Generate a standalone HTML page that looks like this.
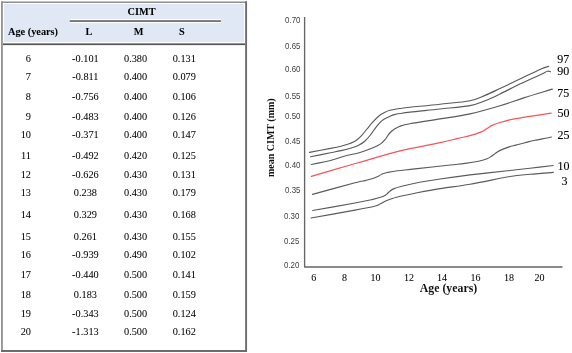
<!DOCTYPE html>
<html><head><meta charset="utf-8"><title>CIMT LMS table and percentile chart</title>
<style>
html,body{margin:0;padding:0;background:#fff;}
body{width:572px;height:353px;overflow:hidden;position:relative;}
svg{position:absolute;left:0;top:0;display:block;}
.serif{font-family:"Liberation Serif","Times New Roman",serif;}
.sans{font-family:"Liberation Sans",Arial,sans-serif;}
</style></head><body>
<svg width="572" height="353" viewBox="0 0 572 353">

<g id="table">
<rect x="4" y="4" width="240" height="38.5" fill="#dfe8f4"/>
<path d="M3.5 3.5H244.5M3.5 3.5V42.5M244.5 3.5V42.5M3.5 42.5H244.5" stroke="#fff" stroke-width="1" fill="none"/>
<rect x="3" y="43" width="242" height="1" fill="#8a98a4"/>
<rect x="3" y="44" width="242" height="1.1" fill="#555"/>
<rect x="69.7" y="19" width="151.2" height="4" fill="#fff"/>
<rect x="69.7" y="20.2" width="151.2" height="1.7" fill="#666"/>
<path d="M1 2.2H247" stroke="#8e8e8e" stroke-width="1.55"/>
<path d="M1.95 1.2V351.9" stroke="#969696" stroke-width="1.9"/>
<path d="M246.1 1.2V351.9" stroke="#6c6c6c" stroke-width="1.9"/>
<path d="M1 350.9H247" stroke="#6c6c6c" stroke-width="2"/>
<g class="serif" font-size="10.3" fill="#000" stroke="#000" stroke-width="0.04">
<text x="141.6" y="14.6" font-weight="bold" text-anchor="middle">CIMT</text>
<text x="8" y="34.9" font-weight="bold">Age (years)</text>
<text x="89" y="34.9" font-weight="bold" text-anchor="middle">L</text>
<text x="138.7" y="34.9" font-weight="bold" text-anchor="middle">M</text>
<text x="181.8" y="34.9" font-weight="bold" text-anchor="middle">S</text>
<text x="31" y="61.9" text-anchor="end">6</text>
<text x="85.4" y="61.9" text-anchor="middle">-0.101</text>
<text x="135.6" y="61.9" text-anchor="middle">0.380</text>
<text x="184.3" y="61.9" text-anchor="middle">0.131</text>
<text x="31" y="79.8" text-anchor="end">7</text>
<text x="85.4" y="79.8" text-anchor="middle">-0.811</text>
<text x="135.6" y="79.8" text-anchor="middle">0.400</text>
<text x="184.3" y="79.8" text-anchor="middle">0.079</text>
<text x="31" y="99.6" text-anchor="end">8</text>
<text x="85.4" y="99.6" text-anchor="middle">-0.756</text>
<text x="135.6" y="99.6" text-anchor="middle">0.400</text>
<text x="184.3" y="99.6" text-anchor="middle">0.106</text>
<text x="31" y="119.5" text-anchor="end">9</text>
<text x="85.4" y="119.5" text-anchor="middle">-0.483</text>
<text x="135.6" y="119.5" text-anchor="middle">0.400</text>
<text x="184.3" y="119.5" text-anchor="middle">0.126</text>
<text x="31" y="137.9" text-anchor="end">10</text>
<text x="85.4" y="137.9" text-anchor="middle">-0.371</text>
<text x="135.6" y="137.9" text-anchor="middle">0.400</text>
<text x="184.3" y="137.9" text-anchor="middle">0.147</text>
<text x="31" y="159.2" text-anchor="end">11</text>
<text x="85.4" y="159.2" text-anchor="middle">-0.492</text>
<text x="135.6" y="159.2" text-anchor="middle">0.420</text>
<text x="184.3" y="159.2" text-anchor="middle">0.125</text>
<text x="31" y="177.9" text-anchor="end">12</text>
<text x="85.4" y="177.9" text-anchor="middle">-0.626</text>
<text x="135.6" y="177.9" text-anchor="middle">0.430</text>
<text x="184.3" y="177.9" text-anchor="middle">0.131</text>
<text x="31" y="196.2" text-anchor="end">13</text>
<text x="85.4" y="196.2" text-anchor="middle">0.238</text>
<text x="135.6" y="196.2" text-anchor="middle">0.430</text>
<text x="184.3" y="196.2" text-anchor="middle">0.179</text>
<text x="31" y="217.7" text-anchor="end">14</text>
<text x="85.4" y="217.7" text-anchor="middle">0.329</text>
<text x="135.6" y="217.7" text-anchor="middle">0.430</text>
<text x="184.3" y="217.7" text-anchor="middle">0.168</text>
<text x="31" y="239.5" text-anchor="end">15</text>
<text x="85.4" y="239.5" text-anchor="middle">0.261</text>
<text x="135.6" y="239.5" text-anchor="middle">0.430</text>
<text x="184.3" y="239.5" text-anchor="middle">0.155</text>
<text x="31" y="258.2" text-anchor="end">16</text>
<text x="85.4" y="258.2" text-anchor="middle">-0.939</text>
<text x="135.6" y="258.2" text-anchor="middle">0.490</text>
<text x="184.3" y="258.2" text-anchor="middle">0.102</text>
<text x="31" y="277.5" text-anchor="end">17</text>
<text x="85.4" y="277.5" text-anchor="middle">-0.440</text>
<text x="135.6" y="277.5" text-anchor="middle">0.500</text>
<text x="184.3" y="277.5" text-anchor="middle">0.141</text>
<text x="31" y="297.9" text-anchor="end">18</text>
<text x="85.4" y="297.9" text-anchor="middle">0.183</text>
<text x="135.6" y="297.9" text-anchor="middle">0.500</text>
<text x="184.3" y="297.9" text-anchor="middle">0.159</text>
<text x="31" y="317.2" text-anchor="end">19</text>
<text x="85.4" y="317.2" text-anchor="middle">-0.343</text>
<text x="135.6" y="317.2" text-anchor="middle">0.500</text>
<text x="184.3" y="317.2" text-anchor="middle">0.124</text>
<text x="31" y="334.8" text-anchor="end">20</text>
<text x="85.4" y="334.8" text-anchor="middle">-1.313</text>
<text x="135.6" y="334.8" text-anchor="middle">0.500</text>
<text x="184.3" y="334.8" text-anchor="middle">0.162</text>
</g></g>
<g id="chart">
<path d="M304.6 17.1V267H562.5" stroke="#646464" stroke-width="1.35" fill="none" stroke-linejoin="round"/>
<g class="sans" font-size="8.4" fill="#404040" text-anchor="end">
<text x="300.5" y="23.0" textLength="15.4" lengthAdjust="spacingAndGlyphs">0.70</text>
<text x="300.5" y="49.0" textLength="15.4" lengthAdjust="spacingAndGlyphs">0.65</text>
<text x="300.5" y="71.8" textLength="15.4" lengthAdjust="spacingAndGlyphs">0.60</text>
<text x="300.5" y="98.7" textLength="15.4" lengthAdjust="spacingAndGlyphs">0.55</text>
<text x="300.5" y="119.4" textLength="15.4" lengthAdjust="spacingAndGlyphs">0.50</text>
<text x="300.5" y="144.1" textLength="15.4" lengthAdjust="spacingAndGlyphs">0.45</text>
<text x="300.5" y="167.8" textLength="15.4" lengthAdjust="spacingAndGlyphs">0.40</text>
<text x="300.5" y="193.0" textLength="15.4" lengthAdjust="spacingAndGlyphs">0.35</text>
<text x="299.4" y="219.1" textLength="15.4" lengthAdjust="spacingAndGlyphs">0.30</text>
<text x="299.4" y="243.5" textLength="15.4" lengthAdjust="spacingAndGlyphs">0.25</text>
<text x="299.4" y="267.8" textLength="15.4" lengthAdjust="spacingAndGlyphs">0.20</text>
</g>
<g class="serif" font-size="10" fill="#000" stroke="#000" stroke-width="0.05" text-anchor="middle">
<text x="313.8" y="280.6">6</text>
<text x="344.5" y="280.6">8</text>
<text x="375.5" y="280.6">10</text>
<text x="409.0" y="280.6">12</text>
<text x="441.9" y="280.6">14</text>
<text x="475.4" y="280.6">16</text>
<text x="509.0" y="280.6">18</text>
<text x="539.6" y="280.6">20</text>
</g>
<text class="serif" x="448.5" y="292.1" font-size="11.8" font-weight="bold" text-anchor="middle" fill="#111">Age (years)</text>
<text class="serif" transform="translate(274.3 137.7) rotate(-90)" font-size="10" font-weight="bold" text-anchor="middle" fill="#111">mean CIMT (mm)</text>
<path d="M309.4 152.4 C312.9 151.7 325.2 149.4 330.5 148.4 C335.8 147.4 337.8 147.0 341.0 146.2 C344.2 145.4 347.6 144.4 350.0 143.5 C352.4 142.6 353.8 142.1 355.7 140.8 C357.6 139.5 359.4 137.8 361.3 135.8 C363.2 133.8 365.1 131.3 367.0 129.0 C368.9 126.7 370.8 124.3 372.7 122.2 C374.6 120.1 376.4 118.1 378.3 116.5 C380.2 114.9 382.1 113.8 384.0 112.8 C385.9 111.8 387.3 111.0 390.0 110.3 C392.7 109.6 396.7 109.0 400.0 108.5 C403.3 108.0 403.3 107.9 410.0 107.2 C416.7 106.5 430.0 105.3 440.0 104.2 C450.0 103.1 462.5 102.2 470.0 100.7 C477.5 99.2 480.0 97.4 485.0 95.4 C490.0 93.4 494.1 91.3 500.0 88.5 C505.9 85.7 513.6 82.1 520.4 78.8 C527.2 75.5 536.3 71.0 541.0 68.9 C545.7 66.8 547.5 66.7 548.8 66.3" stroke="#5a5a5a" stroke-width="1.15" fill="none" stroke-linecap="round" stroke-linejoin="round"/>
<path d="M310.6 156.8 C313.9 156.1 325.4 153.7 330.5 152.7 C335.6 151.7 337.4 151.4 341.0 150.6 C344.6 149.8 349.0 148.7 352.0 147.8 C355.0 146.9 357.0 146.1 359.1 145.0 C361.2 143.9 362.8 143.0 364.7 141.3 C366.6 139.6 368.5 137.4 370.4 135.0 C372.3 132.6 374.2 129.4 376.1 127.1 C378.0 124.8 380.0 122.4 381.7 120.9 C383.4 119.4 384.9 118.8 386.3 118.0 C387.7 117.2 388.6 116.9 390.0 116.3 C391.4 115.7 392.7 115.1 394.4 114.6 C396.1 114.1 397.4 113.9 400.0 113.5 C402.6 113.1 403.3 112.8 410.0 112.1 C416.7 111.3 430.0 110.1 440.0 109.0 C450.0 107.9 462.5 107.0 470.0 105.6 C477.5 104.2 480.0 102.7 485.0 100.8 C490.0 98.9 494.1 96.8 500.0 94.0 C505.9 91.2 513.6 87.0 520.4 83.8 C527.2 80.5 536.3 76.6 540.8 74.5 C545.3 72.4 545.9 71.7 547.5 71.2 C549.1 70.8 550.0 71.7 550.5 71.8" stroke="#5a5a5a" stroke-width="1.15" fill="none" stroke-linecap="round" stroke-linejoin="round"/>
<path d="M311.3 164.5 C314.8 163.8 326.6 161.4 332.2 160.0 C337.8 158.6 340.4 157.2 345.0 156.0 C349.6 154.8 355.3 153.9 360.0 152.5 C364.7 151.1 369.6 149.2 373.0 147.8 C376.4 146.4 378.5 145.4 380.6 143.9 C382.7 142.4 384.2 140.5 385.7 138.8 C387.1 137.1 387.9 135.1 389.3 133.5 C390.7 131.9 392.4 130.4 394.2 129.2 C396.0 128.0 397.4 127.1 400.0 126.2 C402.6 125.3 403.3 124.9 410.0 123.7 C416.7 122.5 430.0 120.5 440.0 118.9 C450.0 117.3 460.0 116.1 470.0 113.9 C480.0 111.7 491.0 108.5 500.0 105.8 C509.0 103.1 515.1 100.7 523.8 97.9 C532.5 95.1 547.6 90.6 552.4 89.1" stroke="#5a5a5a" stroke-width="1.15" fill="none" stroke-linecap="round" stroke-linejoin="round"/>
<path d="M311.3 176.3 C317.8 174.4 341.2 167.6 350.2 165.0 C359.1 162.4 356.7 163.2 365.0 160.8 C373.3 158.5 387.5 153.9 400.0 150.9 C412.5 147.9 430.5 144.8 440.0 142.7 C449.5 140.6 452.0 139.8 457.0 138.6 C462.0 137.4 465.9 136.8 470.0 135.7 C474.1 134.6 478.5 133.1 481.3 131.9 C484.1 130.7 485.1 129.6 487.0 128.5 C488.9 127.4 490.5 126.0 492.6 125.1 C494.7 124.1 496.6 123.7 499.4 122.8 C502.2 121.9 506.0 120.7 509.6 119.9 C513.2 119.1 517.5 118.4 520.9 117.8 C524.3 117.2 525.0 117.2 530.0 116.4 C535.0 115.6 547.7 113.6 551.2 113.1" stroke="#f45558" stroke-width="1.2" fill="none" stroke-linecap="round" stroke-linejoin="round"/>
<path d="M312.5 194.4 C319.6 192.5 346.2 185.1 355.0 182.8 C363.8 180.5 362.2 181.3 365.0 180.6 C367.8 179.9 369.7 179.6 372.0 178.8 C374.3 178.0 377.1 176.7 378.8 175.9 C380.5 175.1 380.8 174.6 382.2 174.0 C383.6 173.4 384.8 173.0 387.3 172.5 C389.9 172.0 392.9 171.4 397.5 170.8 C402.1 170.2 406.2 169.9 415.0 168.9 C423.8 167.9 441.9 165.9 450.2 165.0 C458.5 164.1 460.3 164.0 465.0 163.4 C469.7 162.8 474.9 162.0 478.6 161.2 C482.3 160.4 484.8 159.7 487.1 158.8 C489.4 157.9 490.5 156.8 492.2 155.7 C493.9 154.6 495.6 153.1 497.3 152.0 C499.0 150.9 500.4 150.2 502.4 149.4 C504.4 148.6 506.9 147.6 509.2 146.9 C511.5 146.2 513.4 145.8 516.0 145.1 C518.6 144.4 521.8 143.5 525.0 142.7 C528.2 141.9 530.6 141.2 535.0 140.3 C539.4 139.4 548.8 137.6 551.5 137.0" stroke="#5a5a5a" stroke-width="1.15" fill="none" stroke-linecap="round" stroke-linejoin="round"/>
<path d="M312.6 210.5 C319.7 209.2 345.1 204.8 355.0 203.0 C364.9 201.2 367.5 200.6 372.0 199.6 C376.5 198.6 379.8 197.7 382.2 196.8 C384.6 195.9 385.1 195.3 386.4 194.4 C387.7 193.5 388.5 192.2 389.8 191.2 C391.1 190.2 392.2 189.4 394.1 188.6 C396.0 187.8 397.4 187.4 400.9 186.5 C404.4 185.6 408.5 184.4 415.0 183.2 C421.5 181.9 430.8 180.4 440.0 179.0 C449.2 177.6 458.3 176.3 470.0 174.9 C481.7 173.5 500.0 171.6 510.0 170.5 C520.0 169.4 522.8 169.0 530.0 168.2 C537.2 167.4 549.4 165.9 553.3 165.5" stroke="#5a5a5a" stroke-width="1.15" fill="none" stroke-linecap="round" stroke-linejoin="round"/>
<path d="M311.0 218.0 C318.3 216.7 344.4 212.1 355.0 210.1 C365.6 208.1 370.3 207.2 374.5 206.2 C378.7 205.2 378.1 205.0 380.0 204.1 C381.9 203.2 383.5 201.9 385.6 201.0 C387.7 200.1 389.6 199.4 392.4 198.5 C395.2 197.6 398.8 196.7 402.6 195.8 C406.4 194.9 408.8 194.4 415.0 193.2 C421.2 192.0 430.8 190.1 440.0 188.6 C449.2 187.1 458.3 186.2 470.0 184.2 C481.7 182.2 500.0 178.2 510.0 176.5 C520.0 174.8 522.8 175.0 530.0 174.3 C537.2 173.6 549.4 172.7 553.3 172.4" stroke="#5a5a5a" stroke-width="1.15" fill="none" stroke-linecap="round" stroke-linejoin="round"/>
<g class="serif" font-size="12" fill="#000" stroke="#000" stroke-width="0.1" text-anchor="middle">
<text x="563.3" y="63.3">97</text>
<text x="563.3" y="75.0">90</text>
<text x="563.3" y="96.5">75</text>
<text x="563.4" y="117.1">50</text>
<text x="563.5" y="139.2">25</text>
<text x="563.4" y="170.4">10</text>
<text x="564.4" y="184.9">3</text>
</g></g>
</svg>
</body></html>
